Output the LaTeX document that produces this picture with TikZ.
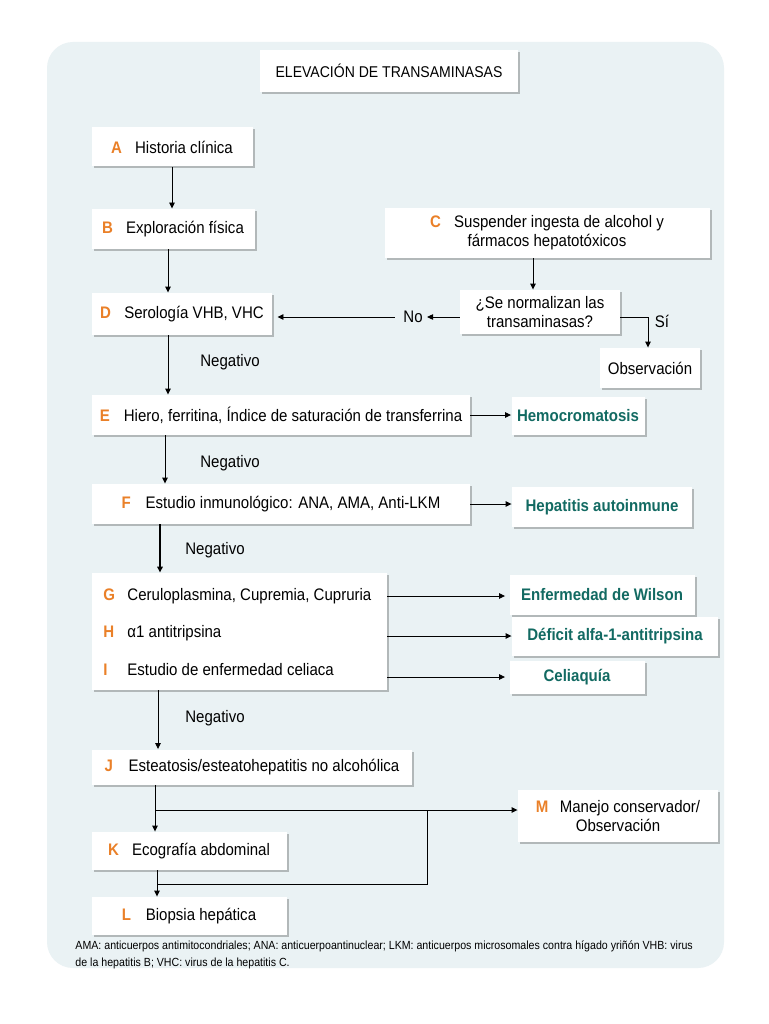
\documentclass[tikz,border=0pt]{standalone}
\usepackage{fontspec}
\setmainfont[FakeStretch=0.9]{Liberation Sans}
\usetikzlibrary{arrows.meta,shadows}

\definecolor{panelbg}{RGB}{234,242,244}
\definecolor{ltrorange}{RGB}{234,128,40}
\definecolor{dxteal}{RGB}{18,106,98}

\newcommand{\ltr}[1]{\makebox[24pt][l]{\color{ltrorange}\bfseries #1}}

\tikzset{
  stepbox/.style={fill=white, inner sep=3pt, align=center,
    font=\fontsize{16.7}{19}\selectfont,
    drop shadow={shadow xshift=2pt, shadow yshift=-2pt, opacity=0.35, fill=black!70}},
  dxbox/.style={stepbox, font=\fontsize{16.7}{19}\selectfont\bfseries, text=dxteal},
  lbl/.style={font=\fontsize{16.7}{19}\selectfont, inner sep=1pt},
  link/.style={-{Triangle[length=6pt,width=5.5pt]}}
}

\begin{document}
\begin{tikzpicture}[x=1pt, y=-1pt, line width=0.9pt]
    \useasboundingbox (0,0) rectangle (768,1024);
    \fill[white] (0,0) rectangle (768,1024);
    \fill[panelbg, rounded corners=26pt] (47,42) rectangle (724,968);

    % boxes
    \node[stepbox, minimum width=258pt, minimum height=42pt, font=\fontsize{15.6}{18}\selectfont] (title) at (389,71) {ELEVACIÓN DE TRANSAMINASAS};
    \node[stepbox, minimum width=161pt, minimum height=39pt] (A) at (172,147) {\ltr{A}Historia clínica};
    \node[stepbox, minimum width=163pt, minimum height=40pt] (B) at (173,229) {\ltr{B}Exploración física};
    \node[stepbox, minimum width=325pt, minimum height=50pt] (C) at (547,233) {\ltr{C}Suspender ingesta de alcohol y\\fármacos hepatotóxicos};
    \node[stepbox, minimum width=160pt, minimum height=44pt] (Q) at (540,312) {¿Se normalizan las\\transaminasas?};
    \node[stepbox, minimum width=100pt, minimum height=40pt] (Obs) at (650,368) {Observación};
    \node[stepbox, minimum width=180pt, minimum height=42pt] (D) at (182,314) {\ltr{D}Serología VHB, VHC};
    \node[stepbox, minimum width=378pt, minimum height=40pt] (E) at (281,415) {\ltr{E}Hiero, ferritina, Índice de saturación de transferrina};
    \node[dxbox, minimum width=133pt, minimum height=38pt] (Hemo) at (578,416) {Hemocromatosis};
    \node[stepbox, minimum width=378pt, minimum height=40pt] (F) at (281,504) {\ltr{F}Estudio inmunológico: ANA, AMA, Anti-LKM};
    \node[dxbox, minimum width=180pt, minimum height=40pt] (Hep) at (602,507) {Hepatitis autoinmune};

    \node[stepbox, minimum width=295pt, minimum height=117pt] (GHI) at (239.5,631.5) {};
    \node[lbl, anchor=west] (G) at (102,596) {\ltr{G}Ceruloplasmina, Cupremia, Cupruria};
    \node[lbl, anchor=west] (H) at (102,633) {\ltr{H}α1 antitripsina};
    \node[lbl, anchor=west] (I) at (102,670) {\ltr{I}Estudio de enfermedad celiaca};
    \node[dxbox, minimum width=185pt, minimum height=40pt] (Wilson) at (602,595) {Enfermedad de Wilson};
    \node[dxbox, minimum width=206pt, minimum height=39pt] (Deficit) at (615,636) {Déficit alfa-1-antitripsina};
    \node[dxbox, minimum width=135pt, minimum height=33pt] (Celiac) at (577,677) {Celiaquía};

    \node[stepbox, minimum width=320pt, minimum height=35pt] (J) at (252,767) {\ltr{J}Esteatosis/esteatohepatitis no alcohólica};
    \node[stepbox, minimum width=200pt, minimum height=52pt] (M) at (618,816) {\ltr{M}Manejo conservador/\\Observación};
    \node[stepbox, minimum width=195pt, minimum height=38pt] (K) at (189,851) {\ltr{K}Ecografía abdominal};
    \node[stepbox, minimum width=195pt, minimum height=38pt] (L) at (189,916) {\ltr{L}Biopsia hepática};

    % labels
    \node[lbl] (No) at (413,317) {No};
    \node[lbl] (Si) at (662,321) {Sí};
    \node[lbl] (neg1) at (230,362) {Negativo};
    \node[lbl] (neg2) at (230,463) {Negativo};
    \node[lbl] (neg3) at (215,550) {Negativo};
    \node[lbl] (neg4) at (215,718) {Negativo};

    % connectors
    \draw[link] (A.south) -- (A.south |- B.north);
    \draw[link] ([xshift=-5pt]B.south) -- ([xshift=-5pt]B.south |- D.north);
    \draw[link] ([xshift=-14pt]C.south) -- ([xshift=-14pt]C.south |- Q.north);
    \draw[link, shorten >=3pt] (Q.west |- No.center) -- (No.east);
    \draw[link, shorten <=7pt, shorten >=5pt] (No.west) -- (No.west -| D.east);
    \draw[link] (Q.east |- No.center) -| ([xshift=-2pt]Obs.north);
    \draw[link] ([xshift=-14pt]D.south) -- ([xshift=-14pt]D.south |- E.north);
    \draw[link] (E.east) -- (E.east -| Hemo.west);
    \draw[link] ([xshift=-116pt]E.south) -- ([xshift=-116pt]E.south |- F.north);
    \draw[link] (F.east) -- (F.east -| Hep.west);
    \draw[link, line width=1.6pt] ([xshift=-121pt]F.south) -- ([xshift=-121pt]F.south |- GHI.north);
    \draw[link, shorten >=4pt] (GHI.east |- G) -- (G -| Wilson.west);
    \draw[link] (GHI.east |- Deficit.west) -- (Deficit.west);
    \draw[link, shorten >=4pt] (GHI.east |- Celiac.west) -- (Celiac.west);
    \draw[link] ([xshift=-81.5pt]GHI.south) -- ([xshift=-81.5pt]GHI.south |- J.north);

    \path ([yshift=6pt]M.west) coordinate (mtip);
    \coordinate (jsplit) at ([xshift=-97pt]J.south |- mtip);
    \draw[link] ([xshift=-97pt]J.south) -- ([xshift=-97pt]J.south |- K.north);
    \draw[link] (jsplit) -- (mtip);
    \coordinate (ksplit) at ([xshift=-32pt, yshift=-14pt]K.south);
    \coordinate (kjoin) at ([xshift=270pt]ksplit);
    \draw[link] ([xshift=-32pt]K.south) -- ([xshift=-32pt]K.south |- L.north);
    \draw (ksplit) -- (kjoin) -- (kjoin |- mtip);

    % footnote
    \node[anchor=north west, align=left, inner sep=0pt, font=\fontsize{11.8}{17}\selectfont] (note) at (75,940)
      {AMA: anticuerpos antimitocondriales; ANA: anticuerpoantinuclear; LKM: anticuerpos microsomales contra hígado yriñón VHB: virus\\
       de la hepatitis B; VHC: virus de la hepatitis C.};
\end{tikzpicture}
\end{document}
